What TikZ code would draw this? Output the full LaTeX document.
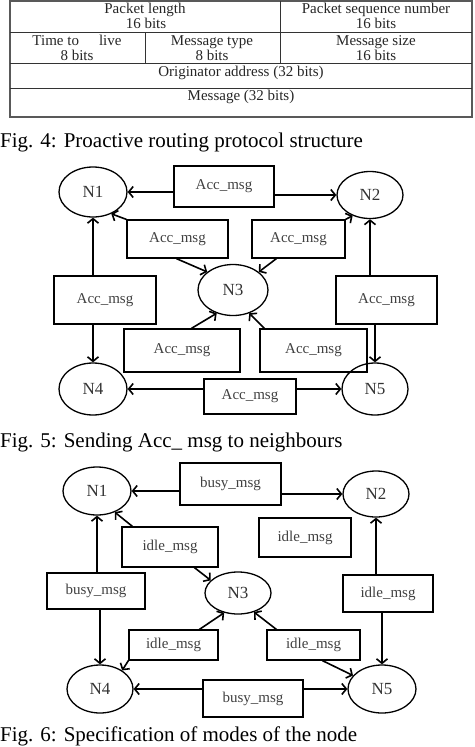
\documentclass[tikz,border=0pt]{standalone}
\usepackage{fontspec}
\setmainfont{Liberation Serif}
\usetikzlibrary{arrows.meta,shapes.geometric}
\begin{document}
\begin{tikzpicture}[x=1pt,y=-1pt,
  nd/.style={draw, ellipse, line width=1.3pt, inner sep=0pt, text=black!80, font=\fontsize{17}{17}\selectfont},
  mb/.style 2 args={draw, line width=1.2pt, inner sep=0pt, minimum width=#1, minimum height=#2, text=black!75, font=\fontsize{15}{15}\selectfont},
  arr/.style={line width=1.6pt, -{Straight Barb[length=4.5pt,width=11pt,line width=1.6pt]}},
  tl/.style={anchor=base, inner sep=0pt, text=black!85, font=\fontsize{15}{15}\selectfont},
  figcap/.style={anchor=base west, inner sep=0pt, font=\fontsize{21}{21}\selectfont},
  tline/.style={line width=0.9pt, black!80}
]
\useasboundingbox (0,0) rectangle (474,747);
% ---------- table (Fig. 4) ----------
\draw[line width=1.5pt, black!65] (10,1) rectangle (472,117);
\draw[tline] (10,32) -- (472,32);
\draw[tline] (10,63) -- (472,63);
\draw[tline] (10,88) -- (472,88);
\draw[tline] (280,1) -- (280,63);
\draw[tline] (145,32) -- (145,63);
\node[tl] (t1a) at (145,13) {Packet length};
\node[tl] (t1b) at (146,28) {16 bits};
\node[tl] (t2a) at (376,13) {Packet sequence number};
\node[tl] (t2b) at (376,28) {16 bits};
\node[tl] (t3a) at (77,45) {Time to\hspace{20pt}live};
\node[tl] (t3b) at (77,60) {8 bits};
\node[tl] (t4a) at (212,45) {Message type};
\node[tl] (t4b) at (212,60) {8 bits};
\node[tl] (t5a) at (376,45) {Message size};
\node[tl] (t5b) at (376,60) {16 bits};
\node[tl] (t6) at (241,76) {Originator address (32 bits)};
\node[tl] (t7) at (241,100) {Message (32 bits)};
\node[figcap] (c4) at (0,147) {Fig. 4: Proactive routing protocol structure};
% ---------- Fig. 5 ----------
\node[nd, minimum width=68pt, minimum height=50pt] (N1) at (93,192) {N1};
\node[nd, minimum width=66pt, minimum height=47pt] (N2) at (370,195) {N2};
\node[nd, minimum width=70pt, minimum height=51pt] (N3) at (233,290) {N3};
\node[nd, minimum width=68pt, minimum height=52pt] (N4) at (93,389) {N4};
\node[nd, minimum width=66pt, minimum height=52pt] (N5) at (375,389) {N5};
\node[mb={100pt}{41pt}] (a1) at (224,186.5) {Acc\_msg};
\node[mb={101pt}{38pt}] (a2) at (177.5,239) {Acc\_msg};
\node[mb={93pt}{38pt}] (a3) at (298.5,239) {Acc\_msg};
\node[mb={102pt}{48pt}] (a4) at (105,300) {Acc\_msg};
\node[mb={101pt}{48pt}] (a5) at (386.5,300) {Acc\_msg};
\node[mb={116pt}{43pt}] (a6) at (182,350.5) {Acc\_msg};
\node[mb={107pt}{43pt}] (a7) at (313.5,350.5) {Acc\_msg};
\node[mb={92pt}{35pt}] (a8) at (250,396.5) {Acc\_msg};
\draw[arr] (a1.west |- N1.east) -- (N1.east);
\draw[arr] (a1.east |- N2.west) -- (N2.west);
\draw[arr] (a2.north west) -- (N1.-50);
\draw[arr] ([xshift=50pt]a2.south west) -- (N3.145);
\draw[arr] (a3.north east) -- (N2.-130);
\draw[arr] ([xshift=25pt]a3.south west) -- (N3.35);
\draw[arr] (a4.north -| N1.south) -- (N1.south);
\draw[arr] (a4.south -| N4.north) -- (N4.north);
\draw[arr] (a5.north -| N2.south) -- (N2.south);
\draw[arr] (a5.south -| N5.north) -- (N5.north);
\draw[arr] ([xshift=68pt]a6.north west) -- (N3.-125);
\draw[arr] ([xshift=5pt]a7.north west) -- (N3.-55);
\draw[arr] (a8.west |- N4.east) -- (N4.east);
\draw[arr] (a8.east |- N5.west) -- (N5.west);
\node[figcap] (c5) at (0,447) {Fig. 5: Sending Acc\_ msg to neighbours};
% ---------- Fig. 6 ----------
\node[nd, minimum width=68pt, minimum height=48pt] (M1) at (97,491) {N1};
\node[nd, minimum width=66pt, minimum height=46pt] (M2) at (376,494) {N2};
\node[nd, minimum width=66pt, minimum height=42pt] (M3) at (238,593) {N3};
\node[nd, minimum width=66pt, minimum height=48pt] (M4) at (100,689) {N4};
\node[nd, minimum width=68pt, minimum height=48pt] (M5) at (382,689) {N5};
\node[mb={101pt}{42pt}] (b1) at (230.5,484) {busy\_msg};
\node[mb={96pt}{40pt}] (b2) at (170,547) {idle\_msg};
\node[mb={92pt}{39pt}] (b3) at (305,537.5) {idle\_msg};
\node[mb={98pt}{36pt}] (b4) at (96,591) {busy\_msg};
\node[mb={90pt}{37pt}] (b5) at (388,593.5) {idle\_msg};
\node[mb={89pt}{30pt}] (b6) at (173.5,645) {idle\_msg};
\node[mb={93pt}{30pt}] (b7) at (313.5,645) {idle\_msg};
\node[mb={100pt}{37pt}] (b8) at (253,698.5) {busy\_msg};
\draw[arr] (b1.west |- M1.east) -- (M1.east);
\draw[arr] (b1.east |- M2.west) -- (M2.west);
\draw[arr] ([xshift=11pt]b2.north west) -- (M1.-50);
\draw[arr] ([xshift=73pt]b2.south west) -- (M3.155);
\draw[arr] (b4.north -| M1.south) -- (M1.south);
\draw[arr] (b4.south -| M4.north) -- (M4.north);
\draw[arr] (b5.north -| M2.south) -- (M2.south);
\draw[arr] (b5.south -| M5.north) -- (M5.north);
\draw[arr] ([xshift=71pt]b6.north west) -- (M3.-125);
\draw[arr] (b6.south west) -- (M4.40);
\draw[arr] ([xshift=10pt]b7.north west) -- (M3.-50);
\draw[arr] ([xshift=56pt]b7.south west) -- (M5.155);
\draw[arr] (b8.west |- M4.east) -- (M4.east);
\draw[arr] (b8.east |- M5.west) -- (M5.west);
\node[figcap] (c6) at (0,741) {Fig. 6: Specification of modes of the node};
\end{tikzpicture}
\end{document}
